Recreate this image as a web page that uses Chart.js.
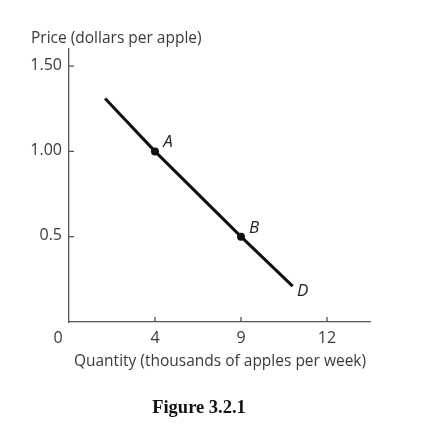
<!DOCTYPE html>
<html>
<head>
<meta charset="utf-8">
<script src="https://cdn.jsdelivr.net/npm/chart.js@4.4.1/dist/chart.umd.min.js"></script>
<style>
  body { margin: 0; background: #fff; }
  canvas { display: block; }
</style>
</head>
<body>
<canvas id="chart" width="444" height="436"></canvas>
<script>
// Quantity ticks are evenly spaced on the picture (0, 4, 9, 12), so x uses tick positions
const qtyLabels = ['0', '4', '9', '12'];
const qtyPositions = [0, 1, 2, 3];
const priceTicks = [0.5, 1.0, 1.5];
const priceLabels = ['0.5', '1.00', '1.50'];

// Demand curve D: start, A, B, end
const curveX = [0.42, 1, 2, 2.6];
const curveY = [1.31, 1.00, 0.50, 0.21];
const curveNames = ['', 'A', 'B', 'D'];
const curveDots = [0, 4, 4, 0];

const textColor = '#3a3a3a';
const sansFont = '"Open Sans", sans-serif';

const labelPlugin = {
    id: 'labels',
    afterDraw(chart) {
        const ctx = chart.ctx;
        const xs = chart.scales.x;
        const ys = chart.scales.y;
        const left = chart.chartArea.left;
        const bottom = chart.chartArea.bottom;
        ctx.save();
        ctx.strokeStyle = '#555';
        ctx.lineWidth = 1.3;
        ctx.fillStyle = textColor;

        // y ticks (inside) and labels
        ctx.font = '16px ' + sansFont;
        ctx.textAlign = 'right';
        ctx.textBaseline = 'middle';
        priceTicks.forEach((v, i) => {
            const y = ys.getPixelForValue(v);
            ctx.beginPath();
            ctx.moveTo(left, y);
            ctx.lineTo(left + 5, y);
            ctx.stroke();
            ctx.fillText(priceLabels[i], left - 7, y - 1);
        });

        // x ticks (inside) and labels
        ctx.textAlign = 'center';
        qtyPositions.forEach((p, i) => {
            const x = xs.getPixelForValue(p);
            if (i > 0) {
                ctx.beginPath();
                ctx.moveTo(x, bottom);
                ctx.lineTo(x, bottom - 5);
                ctx.stroke();
                ctx.fillText(qtyLabels[i], x, bottom + 16);
            } else {
                ctx.fillText(qtyLabels[i], x - 11, bottom + 16);
            }
        });

        // axis titles
        ctx.font = '15.5px ' + sansFont;
        ctx.textAlign = 'left';
        ctx.fillText('Price (dollars per apple)', 31, 39);
        ctx.textAlign = 'center';
        ctx.fillText('Quantity (thousands of apples per week)', 220, 362);

        // point names
        ctx.fillStyle = '#222';
        ctx.font = 'italic 17px ' + sansFont;
        curveNames.forEach((n, i) => {
            if (!n) return;
            const x = xs.getPixelForValue(curveX[i]);
            const y = ys.getPixelForValue(curveY[i]);
            if (n === 'D') ctx.fillText(n, x + 10, y + 5);
            else ctx.fillText(n, x + 13, y - 9);
        });

        // figure caption
        ctx.fillStyle = '#111';
        ctx.font = 'bold 18.5px "Liberation Serif", serif';
        ctx.fillText('Figure 3.2.1', 199, 408);
        ctx.restore();
    }
};

new Chart(document.getElementById('chart'), {
    type: 'scatter',
    data: {
        datasets: [{
            data: curveX.map((x, i) => ({ x: x, y: curveY[i] })),
            showLine: true,
            borderColor: '#111',
            borderWidth: 3,
            pointRadius: curveDots,
            pointBackgroundColor: '#111',
            pointBorderWidth: 0
        }]
    },
    options: {
        responsive: false,
        animation: false,
        layout: { padding: { left: 69, top: 49, right: 74, bottom: 114 } },
        plugins: { legend: { display: false }, tooltip: { enabled: false } },
        scales: {
            x: {
                type: 'linear', min: 0, max: 3.5,
                grid: { display: false, drawTicks: false },
                border: { display: true, color: '#555', width: 1.3 },
                ticks: { display: false }
            },
            y: {
                type: 'linear', min: 0, max: 1.6,
                grid: { display: false, drawTicks: false },
                border: { display: true, color: '#555', width: 1.3 },
                ticks: { display: false }
            }
        }
    },
    plugins: [labelPlugin]
});
</script>
</body>
</html>
